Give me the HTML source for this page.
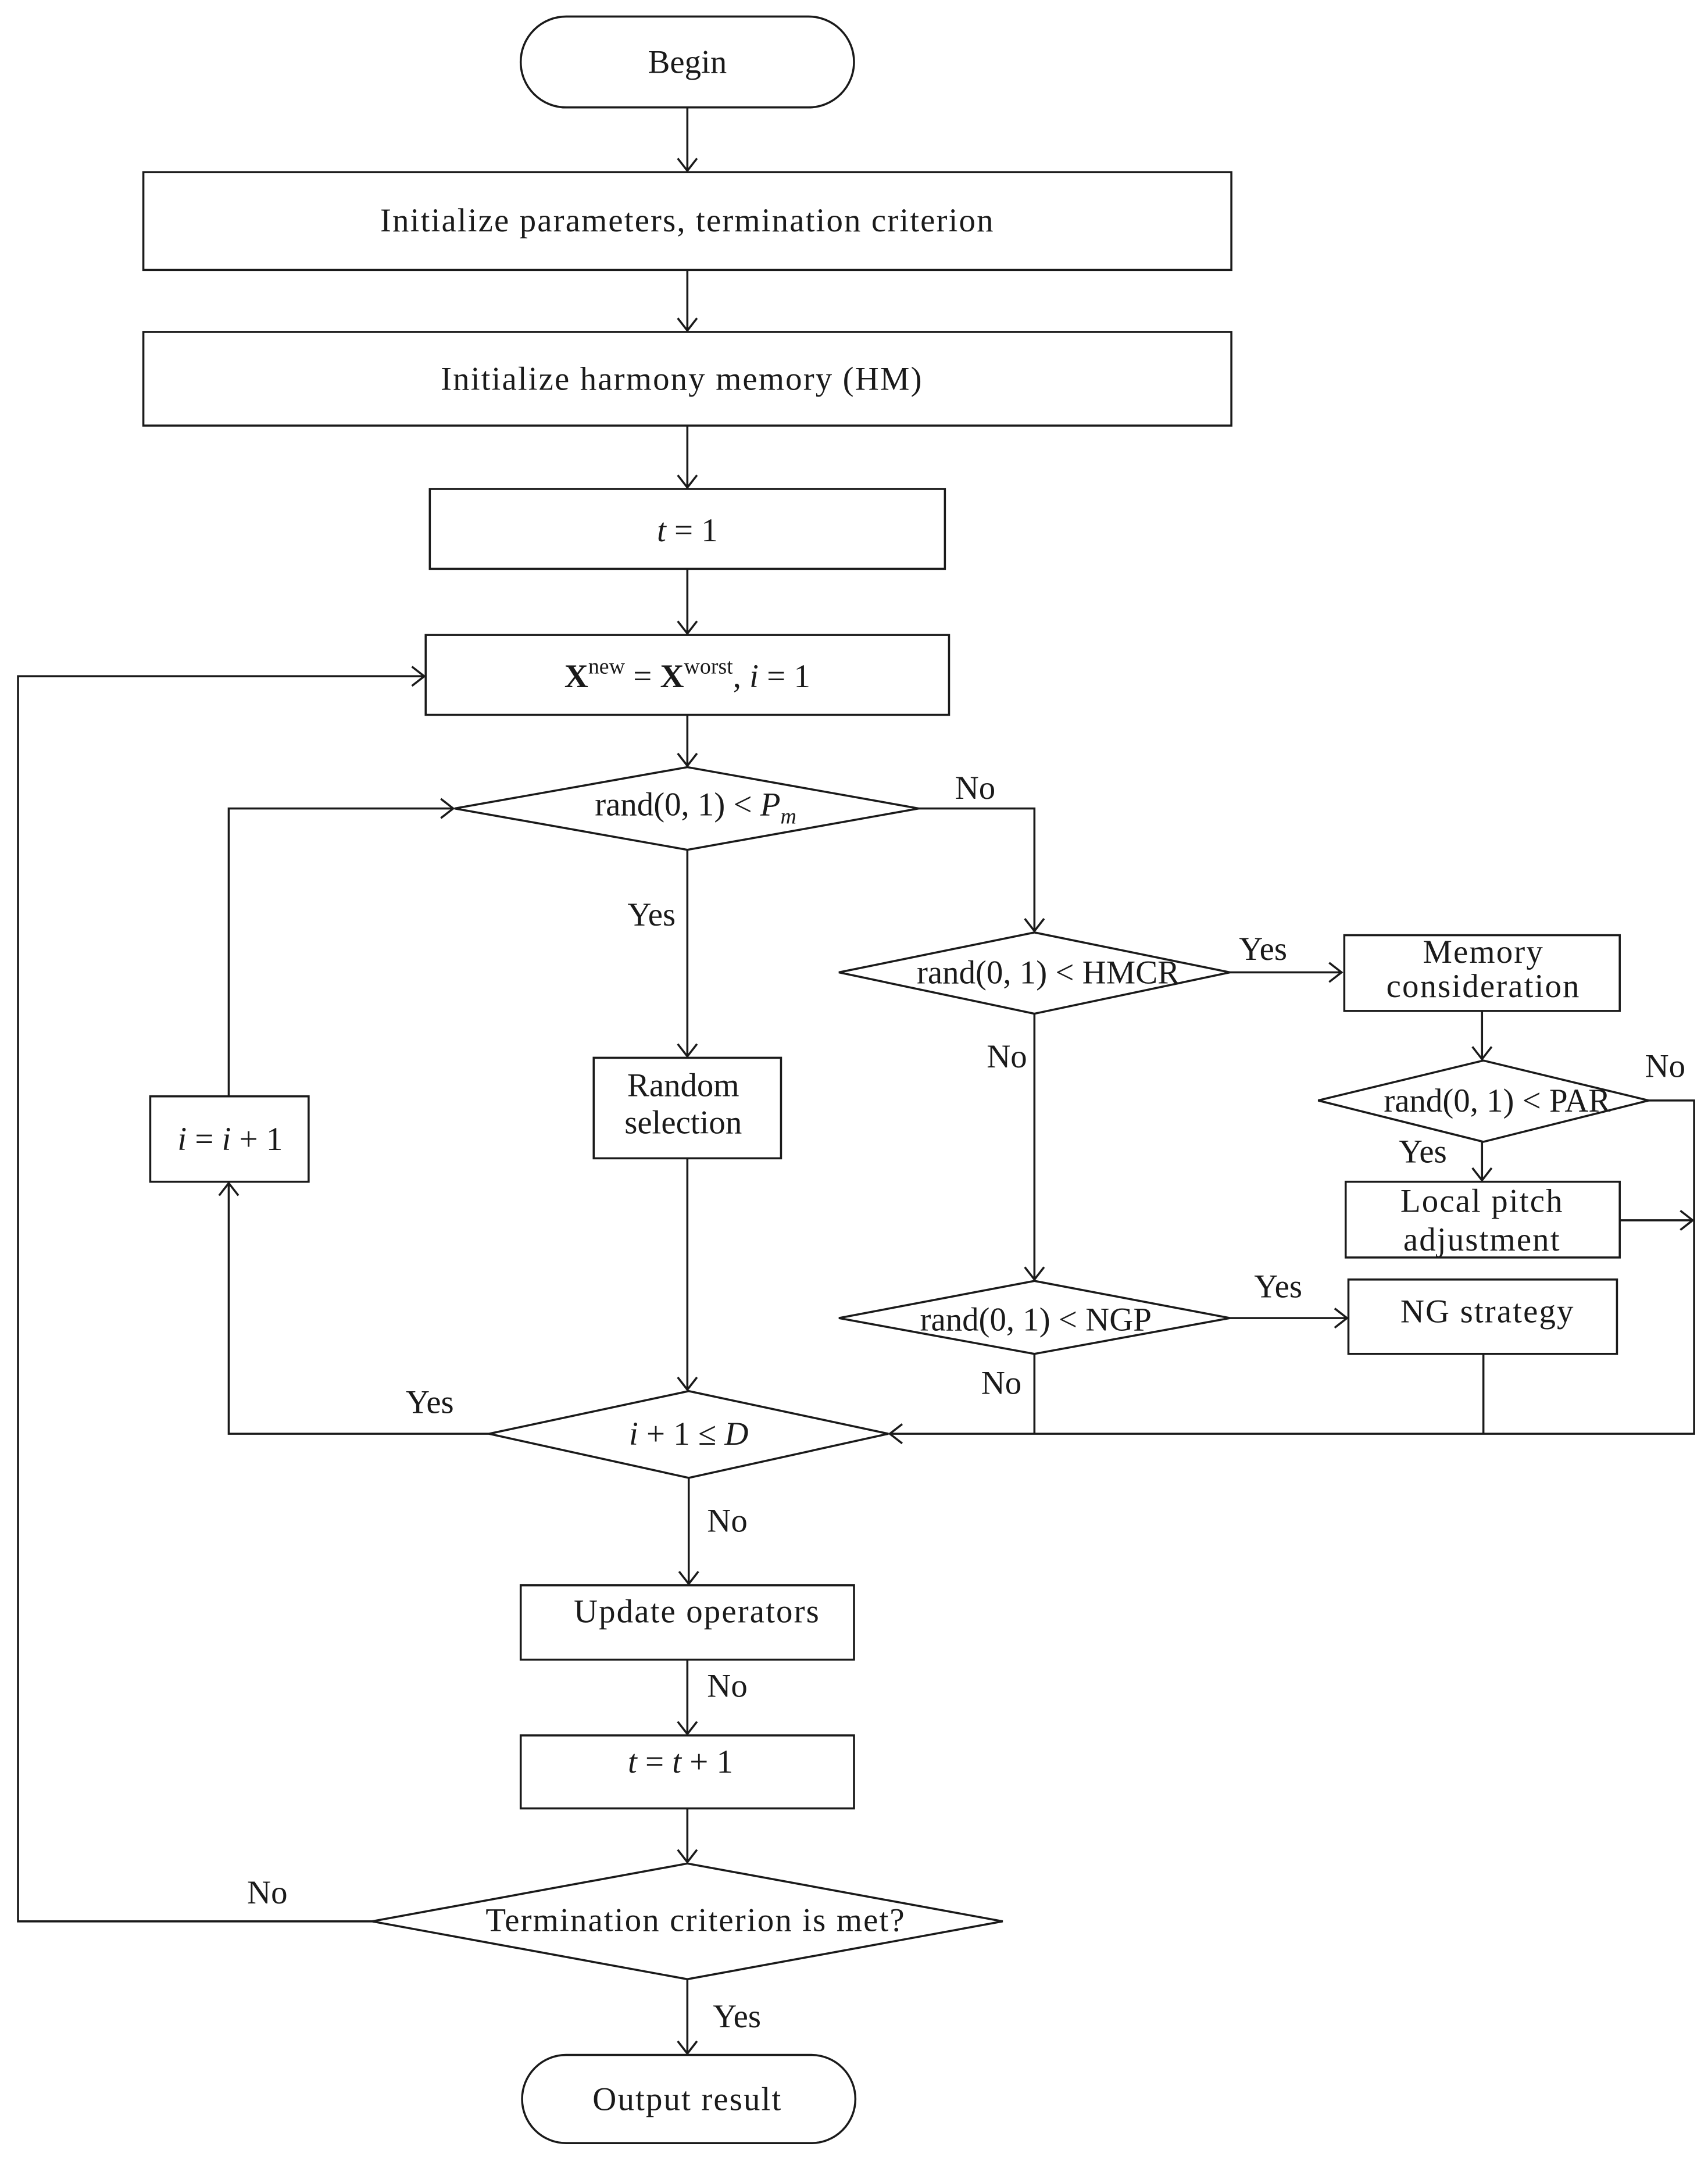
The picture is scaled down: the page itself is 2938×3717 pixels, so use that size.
<!DOCTYPE html>
<html><head><meta charset="utf-8"><style>html,body{margin:0;padding:0;background:#fff}svg{display:block}</style></head>
<body>
<svg width="2938" height="3717" viewBox="0 0 1240 1569" xmlns="http://www.w3.org/2000/svg" font-family="'Liberation Serif', serif" font-size="24" fill="none" stroke="#1a1a1a" stroke-width="1.5">
<defs><marker id="a" markerWidth="20" markerHeight="20" refX="10" refY="10" orient="auto" markerUnits="userSpaceOnUse"><polyline points="1,3 10,10 1,17" fill="none" stroke="#1a1a1a" stroke-width="1.5"/></marker></defs>
<rect x="378" y="12" width="242" height="66" rx="33"/>
<rect x="104" y="125" width="790" height="71"/>
<rect x="104" y="241" width="790" height="68"/>
<rect x="312" y="355" width="374" height="58"/>
<rect x="309" y="461" width="380" height="58"/>
<polygon points="330,587 499,557 667,587 499,617"/>
<rect x="431" y="768" width="136" height="73"/>
<polygon points="355,1041 500,1010 645,1041 500,1073"/>
<rect x="109" y="796" width="115" height="62"/>
<polygon points="609,706 751,677 893,706 751,736"/>
<rect x="976" y="679" width="200" height="55"/>
<polygon points="957,799 1077,770 1197,799 1077,829"/>
<rect x="977" y="858" width="199" height="55"/>
<polygon points="609,957 751,930 893,957 751,983"/>
<rect x="979" y="929" width="195" height="54"/>
<rect x="378" y="1151" width="242" height="54"/>
<rect x="378" y="1260" width="242" height="53"/>
<polygon points="270,1395 499,1353 728,1395 499,1437"/>
<rect x="379" y="1492" width="242" height="64" rx="32"/>
<g marker-end="url(#a)">
<line x1="499" y1="78" x2="499" y2="124"/>
<line x1="499" y1="196" x2="499" y2="240"/>
<line x1="499" y1="309" x2="499" y2="354"/>
<line x1="499" y1="413" x2="499" y2="460"/>
<line x1="499" y1="519" x2="499" y2="556"/>
<line x1="499" y1="617" x2="499" y2="767"/>
<line x1="499" y1="841" x2="499" y2="1009"/>
<polyline points="355,1041 166,1041 166,859"/>
<polyline points="166,796 166,587 329,587"/>
<polyline points="667,587 751,587 751,676"/>
<line x1="893" y1="706" x2="974" y2="706"/>
<line x1="1076" y1="734" x2="1076" y2="769"/>
<line x1="1076" y1="829" x2="1076" y2="857"/>
<line x1="1176" y1="886" x2="1229" y2="886"/>
<line x1="751" y1="736" x2="751" y2="929"/>
<line x1="893" y1="957" x2="978" y2="957"/>
<polyline points="1197,799 1230,799 1230,1041 646,1041"/>
<line x1="500" y1="1073" x2="500" y2="1150"/>
<line x1="499" y1="1205" x2="499" y2="1259"/>
<line x1="499" y1="1313" x2="499" y2="1352"/>
<polyline points="270,1395 13,1395 13,491 308,491"/>
<line x1="499" y1="1437" x2="499" y2="1491"/>
</g>
<line x1="1077" y1="983" x2="1077" y2="1041"/>
<line x1="751" y1="983" x2="751" y2="1041"/>
<g fill="#1a1a1a" stroke="none" text-anchor="middle" letter-spacing="0.9">
<text x="499" y="168">Initialize parameters, termination criterion</text>
<text x="495" y="283">Initialize harmony memory (HM)</text>
<text x="505" y="1402">Termination criterion is met?</text>
<text x="506" y="1178">Update operators</text>
<text x="499" y="1532">Output result</text>
<text x="1077" y="699">Memory</text>
<text x="1077" y="724">consideration</text>
<text x="1076" y="880">Local pitch</text>
<text x="1076" y="908">adjustment</text>
<text x="1080" y="960">NG strategy</text>
</g>
<g fill="#1a1a1a" stroke="none" text-anchor="middle">
<text x="499" y="53">Begin</text>
<text x="499" y="393"><tspan font-style="italic">t</tspan> = 1</text>
<text x="499" y="499"><tspan font-weight="bold">X</tspan><tspan font-size="16" dy="-10">new</tspan><tspan dy="10"> = </tspan><tspan font-weight="bold">X</tspan><tspan font-size="16" dy="-10">worst</tspan><tspan dy="10">, </tspan><tspan font-style="italic">i</tspan> = 1</text>
<text x="505" y="592">rand(0, 1) &lt; <tspan font-style="italic">P</tspan><tspan font-style="italic" font-size="16" dy="6">m</tspan></text>
<text x="473" y="672">Yes</text>
<text x="708" y="580">No</text>
<text x="496" y="796">Random</text>
<text x="496" y="823">selection</text>
<text x="167" y="835"><tspan font-style="italic">i</tspan> = <tspan font-style="italic">i</tspan> + 1</text>
<text x="312" y="1026">Yes</text>
<text x="500" y="1049"><tspan font-style="italic">i</tspan> + 1 ≤ <tspan font-style="italic">D</tspan></text>
<text x="761" y="714">rand(0, 1) &lt; HMCR</text>
<text x="917" y="697">Yes</text>
<text x="731" y="775">No</text>
<text x="1087" y="807">rand(0, 1) &lt; PAR</text>
<text x="1209" y="782">No</text>
<text x="1033" y="844">Yes</text>
<text x="752" y="966">rand(0, 1) &lt; NGP</text>
<text x="928" y="942">Yes</text>
<text x="727" y="1012">No</text>
<text x="528" y="1112">No</text>
<text x="528" y="1232">No</text>
<text x="494" y="1287"><tspan font-style="italic">t</tspan> = <tspan font-style="italic">t</tspan> + 1</text>
<text x="194" y="1382">No</text>
<text x="535" y="1472">Yes</text>
</g>
</svg>
</body></html>
